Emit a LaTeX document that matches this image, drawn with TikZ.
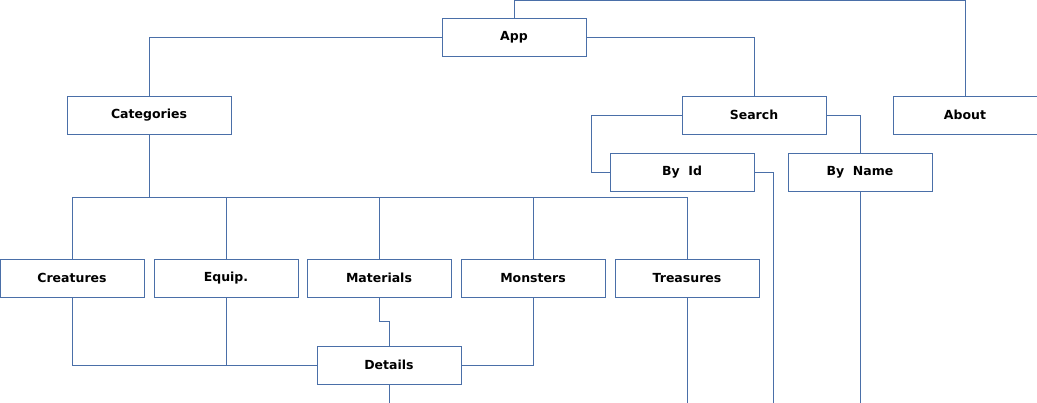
\documentclass[tikz,border=0pt]{standalone}
\usepackage{fontspec}
\setmainfont{DejaVu Sans}
\definecolor{lc}{HTML}{4A6FA8}
\begin{document}
\begin{tikzpicture}[x=1pt,y=-1pt,
  box/.style={draw=lc, line width=0.8pt, fill=white, minimum width=144pt, minimum height=38pt, inner sep=0pt, font=\fontsize{12.5}{14}\selectfont\bfseries},
  ln/.style={draw=lc, line width=0.6pt}]
\useasboundingbox (0,0) rectangle (1037,403);
\node[box] (app) at (514,37) {App};
\node[box, minimum width=164pt] (cat) at (149,115) {Categories};
\node[box] (search) at (754,115) {Search};
\node[box] (about) at (965,115) {About};
\node[box] (byid) at (682,172) {By\ \ Id};
\node[box] (byname) at (860,172) {By\ \ Name};
\node[box] (cre) at (72,278) {Creatures};
\node[box] (equ) at (226,278) {Equip.};
\node[box] (mat) at (379,278) {Materials};
\node[box] (mon) at (533,278) {Monsters};
\node[box] (tre) at (687,278) {Treasures};
\node[box] (det) at (389,365) {Details};
\coordinate (e1) at (773,403);
\coordinate (e2) at (860,403);
\coordinate (e3) at (687,403);
\coordinate (e4) at (389,403);
\draw[ln] (app.north) -- (514,0.5) -- (965,0.5) -- (about.north);
\draw[ln] (app.west) -| (cat.north);
\draw[ln] (app.east) -| (search.north);
\draw[ln] (search.west) -- (591,115) |- (byid.west);
\draw[ln] (search.east) -| (byname.north);
\draw[ln] (byid.east) -| (e1);
\draw[ln] (byname.south) -- (e2);
\draw[ln] (cat.south) |- (72,197) -- (cre.north);
\draw[ln] (149,197) -| (tre.north);
\draw[ln] (equ.north) -- (226,197);
\draw[ln] (mat.north) -- (379,197);
\draw[ln] (mon.north) -- (533,197);
\draw[ln] (cre.south) |- (det.west);
\draw[ln] (equ.south) -- (226,365);
\draw[ln] (mat.south) -- (379,321) -| (det.north);
\draw[ln] (mon.south) |- (det.east);
\draw[ln] (tre.south) -- (e3);
\draw[ln] (det.south) -- (e4);
\end{tikzpicture}
\end{document}
